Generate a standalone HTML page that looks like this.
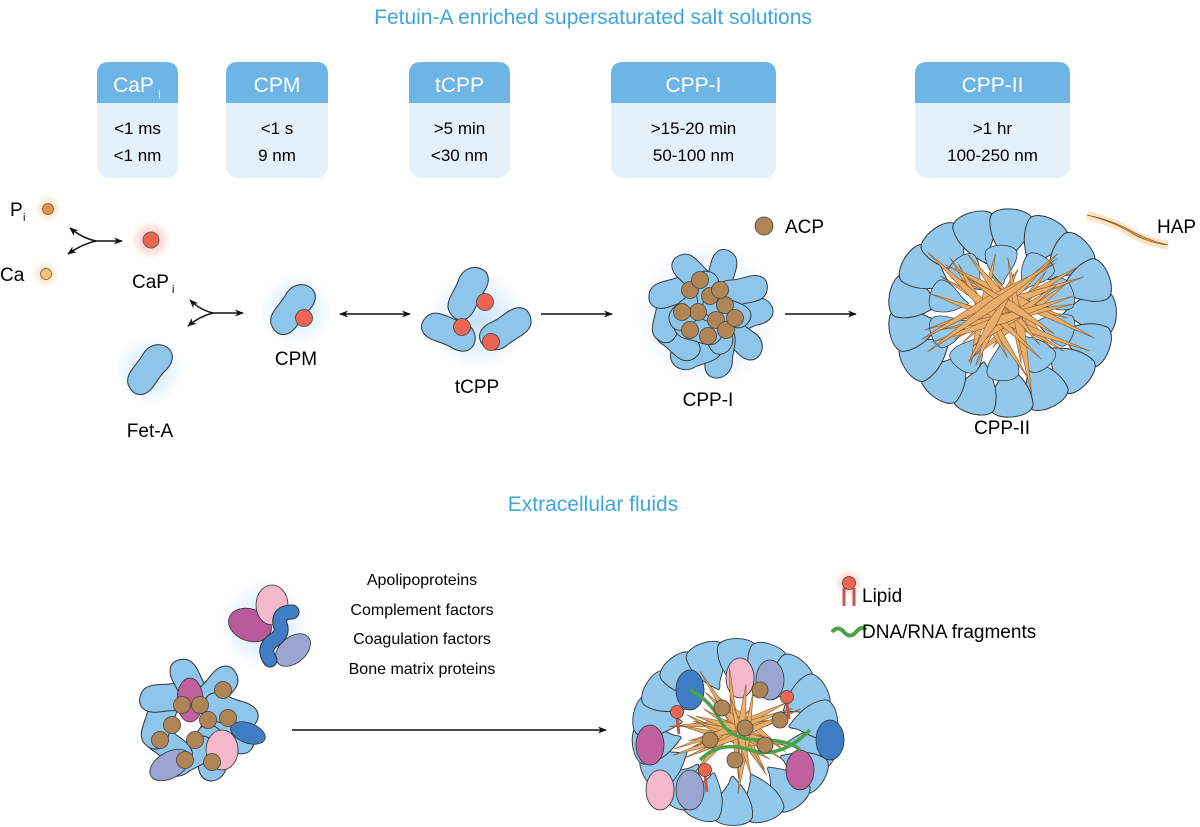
<!DOCTYPE html>
<html><head><meta charset="utf-8"><style>
body{margin:0;background:#fff;width:1200px;height:827px;overflow:hidden;font-family:"Liberation Sans",Arial,sans-serif}
svg{display:block}
text{font-family:"Liberation Sans",Arial,sans-serif}
</style></head><body>
<svg id="s" width="1200" height="827" viewBox="0 0 1200 827">
<defs>
<radialGradient id="glowB"><stop offset="0" stop-color="#bfe0f7" stop-opacity=".9"/><stop offset="1" stop-color="#bfe0f7" stop-opacity="0"/></radialGradient>
<radialGradient id="glowR"><stop offset="0" stop-color="#f7a0a0" stop-opacity=".8"/><stop offset="1" stop-color="#f7a0a0" stop-opacity="0"/></radialGradient>
<radialGradient id="glowO"><stop offset="0" stop-color="#fbd3a0" stop-opacity=".9"/><stop offset="1" stop-color="#fbd3a0" stop-opacity="0"/></radialGradient>
<marker id="ah" viewBox="0 0 10 10" refX="9" refY="5" markerWidth="6" markerHeight="6" orient="auto-start-reverse"><path d="M0,1 L10,5 L0,9 L3,5Z" fill="#111"/></marker>
<path id="pea" d="M-20,20 C-28,8 -14,-2 -8,-12 C-2,-24 10,-26 18,-20 C26,-13 22,-3 14,4 C6,12 4,22 -6,26 C-12,28 -17,25 -20,20 Z" fill="#8ec5ea" stroke="#333" stroke-width="1"/>
<path id="drop" d="M0,0 C-10,-10 -20,-22 -20,-38 C-20,-52 20,-52 20,-38 C20,-24 8,-14 4,-5 C3,0 1,2 0,0Z" fill="#92c8ec" stroke="#333" stroke-width="0.9"/>
</defs>

<text x="593" y="24" text-anchor="middle" font-size="21" fill="#3ea6dd">Fetuin-A enriched supersaturated salt solutions</text>
<text x="593" y="511" text-anchor="middle" font-size="21" fill="#3ea6dd">Extracellular fluids</text>

<g id="boxes" font-size="17" text-anchor="middle"></g>

<circle cx="48" cy="209" r="14" fill="url(#glowO)"/><circle cx="48" cy="209" r="5.5" fill="#e8914a" stroke="#555" stroke-width=".7"/>
<circle cx="46" cy="274" r="14" fill="url(#glowO)"/><circle cx="46" cy="274" r="5.5" fill="#fbc46e" stroke="#555" stroke-width=".7"/>
<text x="10" y="216" font-size="19">P</text><text x="23" y="221" font-size="11">i</text>
<text x="0" y="281" font-size="19">Ca</text>
<path d="M96,241 Q82,238 70,228" fill="none" stroke="#111" stroke-width="1.5" marker-end="url(#ah)"/>
<path d="M96,241 Q82,244 68,254" fill="none" stroke="#111" stroke-width="1.5" marker-end="url(#ah)"/>
<line x1="96" y1="241" x2="122" y2="241" stroke="#111" stroke-width="1.5" marker-end="url(#ah)"/>
<circle cx="151" cy="240" r="20" fill="url(#glowR)"/><circle cx="151" cy="240" r="8" fill="#ec6552" stroke="#555" stroke-width=".8"/>
<text x="132" y="288" font-size="19">CaP</text><text x="172" y="293" font-size="11">i</text>
<path d="M213,313 Q200,310 190,300" fill="none" stroke="#111" stroke-width="1.5" marker-end="url(#ah)"/>
<path d="M213,313 Q200,316 188,326" fill="none" stroke="#111" stroke-width="1.5" marker-end="url(#ah)"/>
<line x1="213" y1="313" x2="243" y2="313" stroke="#111" stroke-width="1.5" marker-end="url(#ah)"/>
<circle cx="150" cy="370" r="34" fill="url(#glowB)"/><use href="#pea" x="150" y="368"/>
<text x="150" y="437" font-size="19" text-anchor="middle">Fet-A</text>
<circle cx="296" cy="310" r="36" fill="url(#glowB)"/><use href="#pea" x="293" y="308"/><circle cx="304" cy="318" r="8.5" fill="#ec6552" stroke="#444" stroke-width=".8"/>
<text x="296" y="365" font-size="19" text-anchor="middle">CPM</text>
<line x1="340" y1="314" x2="410" y2="314" stroke="#111" stroke-width="1.5" marker-start="url(#ah)" marker-end="url(#ah)"/>
<circle cx="478" cy="320" r="50" fill="url(#glowB)"/>
<use href="#pea" transform="translate(468,292) rotate(-10)"/>
<use href="#pea" transform="translate(450,332) rotate(75)"/>
<use href="#pea" transform="translate(505,330) rotate(200)"/>
<circle cx="485" cy="302" r="8.5" fill="#ec6552" stroke="#444" stroke-width=".8"/>
<circle cx="462" cy="327" r="8.5" fill="#ec6552" stroke="#444" stroke-width=".8"/>
<circle cx="491" cy="342" r="8.5" fill="#ec6552" stroke="#444" stroke-width=".8"/>
<text x="477" y="393" font-size="19" text-anchor="middle">tCPP</text>
<line x1="541" y1="314" x2="612" y2="314" stroke="#111" stroke-width="1.5" marker-end="url(#ah)"/>
<g id="cpp1"></g>
<text x="708" y="406" font-size="19" text-anchor="middle">CPP-I</text>
<circle cx="764" cy="226" r="9" fill="#b08556" stroke="#444" stroke-width=".8"/>
<text x="785" y="233" font-size="19">ACP</text>
<line x1="785" y1="314" x2="856" y2="314" stroke="#111" stroke-width="1.5" marker-end="url(#ah)"/>
<g id="cpp2"></g>
<text x="1002" y="434" font-size="19" text-anchor="middle">CPP-II</text>
<path d="M1087,215 Q1115,222 1135,235 Q1150,243 1168,245" fill="none" stroke="#fbd3a0" stroke-width="9" opacity=".6"/>
<path d="M1087,215 Q1115,222 1135,235 Q1150,243 1168,245 Q1148,240 1133,232 Q1112,220 1087,215Z" fill="#e9a865" stroke="#8a5a2a" stroke-width=".8"/>
<text x="1157" y="233" font-size="19">HAP</text>

<g font-size="16" text-anchor="middle">
<text x="422" y="585">Apolipoproteins</text>
<text x="422" y="615">Complement factors</text>
<text x="422" y="644">Coagulation factors</text>
<text x="422" y="674">Bone matrix proteins</text>
</g>
<g id="prot"></g>
<g id="clusterL"></g>
<line x1="292" y1="730" x2="606" y2="730" stroke="#111" stroke-width="1.5" marker-end="url(#ah)"/>
<g id="clusterR"></g>
<circle cx="849" cy="583" r="14" fill="url(#glowR)"/>
<path d="M844,588 L844,606 M854,588 L854,606" stroke="#c9534a" stroke-width="3" fill="none"/>
<circle cx="849" cy="583" r="6.5" fill="#ec6552" stroke="#444" stroke-width=".8"/>
<text x="862" y="602" font-size="19">Lipid</text>
<path d="M832,632 q6,-7 12,0 t12,0 t10,-2" fill="none" stroke="#4aa24a" stroke-width="4"/>
<text x="862" y="638" font-size="19">DNA/RNA fragments</text>
</svg>
<script>
const NS="http://www.w3.org/2000/svg";
function el(p,t,a){const e=document.createElementNS(NS,t);for(const k in a)e.setAttribute(k,a[k]);p.appendChild(e);return e;}
const B=document.getElementById("boxes");
[[97,178,"CaP","<1 ms","<1 nm",1],[226,328,"CPM","<1 s","9 nm"],[409,510,"tCPP",">5 min","<30 nm"],[611,776,"CPP-I",">15-20 min","50-100 nm"],[915,1070,"CPP-II",">1 hr","100-250 nm"]].forEach(b=>{
 const [x1,x2,h,a,c,sub]=b,w=x2-x1,cx=(x1+x2)/2;
 el(B,"rect",{x:x1,y:62,width:w,height:116,rx:12,fill:"#e5f1fa"});
 el(B,"path",{d:`M${x1},103 L${x1},74 Q${x1},62 ${x1+12},62 L${x2-12},62 Q${x2},62 ${x2},74 L${x2},103Z`,fill:"#6db5e5"});
 const t=el(B,"text",{x:cx-(sub?4:0),y:92,fill:"#fff","font-size":21});t.textContent=h;
 if(sub){const s=el(B,"text",{x:cx+22,y:98,fill:"#fff","font-size":11});s.textContent="i";}
 el(B,"text",{x:cx,y:134}).textContent=a;
 el(B,"text",{x:cx,y:161}).textContent=c;
});
function drops(g,cx,cy,rx,ry,n,off,sc){for(let i=0;i<n;i++){const a=i/n*2*Math.PI+off;const x=cx+Math.cos(a)*rx,y=cy+Math.sin(a)*ry;el(g,"use",{href:"#drop",transform:`translate(${x},${y}) rotate(${a*180/Math.PI+90}) scale(${sc})`});}}
function peas(g,cx,cy,r,n,off,sc){for(let i=0;i<n;i++){const a=i/n*2*Math.PI+off;const x=cx+Math.cos(a)*r,y=cy+Math.sin(a)*r;el(g,"use",{href:"#pea",transform:`translate(${x},${y}) rotate(${a*180/Math.PI*1.7+30}) scale(${sc})`});}}
function ball(g,x,y,r,f){el(g,"circle",{cx:x,cy:y,r:r,fill:f||"#b08556",stroke:"#444","stroke-width":.8});}
const c1=document.getElementById("cpp1");
el(c1,"circle",{cx:708,cy:315,r:72,fill:"url(#glowB)"});
peas(c1,708,315,40,10,0,0.95);peas(c1,708,315,18,5,1,0.9);
[[690,290],[710,296],[725,305],[698,312],[716,320],[690,330],[708,336],[726,330],[682,312],[700,280],[720,290],[735,318]].forEach(p=>ball(c1,p[0],p[1],8.5));
const c2=document.getElementById("cpp2");
drops(c2,1002,313,62,52,17,0,1.08);
drops(c2,1002,313,36,29,10,0.3,0.8);
let seed=3;function rnd(){seed=(seed*9301+49297)%233280;return seed/233280;}
for(let i=0;i<26;i++){const a=rnd()*Math.PI*2,L=45+rnd()*45,cx=1002+(rnd()-.5)*40,cy=313+(rnd()-.5)*30;
 const dx=Math.cos(a)*L,dy=Math.sin(a)*L*0.8,nx=-Math.sin(a)*4.5,ny=Math.cos(a)*4.5;
 el(c2,"path",{d:`M${cx-dx},${cy-dy} L${cx+nx},${cy+ny} L${cx+dx},${cy+dy} L${cx-nx},${cy-ny}Z`,fill:"#eaae6c",stroke:"#8a5a2a","stroke-width":.6});}
const P=document.getElementById("prot");
el(P,"circle",{cx:265,cy:625,r:45,fill:"url(#glowB)"});
el(P,"ellipse",{cx:250,cy:625,rx:22,ry:16,fill:"#b8599a",stroke:"#333","stroke-width":.8,transform:"rotate(20 250 625)"});
el(P,"ellipse",{cx:272,cy:605,rx:16,ry:20,fill:"#f3b8cc",stroke:"#333","stroke-width":.8});
el(P,"ellipse",{cx:293,cy:650,rx:20,ry:13,fill:"#9aa6cf",stroke:"#333","stroke-width":.8,transform:"rotate(-40 293 650)"});
el(P,"path",{d:"M270,660 q-8,-12 4,-20 q10,-6 6,-16 q-2,-12 12,-12",fill:"none",stroke:"#333","stroke-width":15,"stroke-linecap":"round"});
el(P,"path",{d:"M270,660 q-8,-12 4,-20 q10,-6 6,-16 q-2,-12 12,-12",fill:"none",stroke:"#3f7dc4","stroke-width":13,"stroke-linecap":"round"});
const L=document.getElementById("clusterL");
peas(L,195,722,36,9,0.4,1.0);
el(L,"ellipse",{cx:190,cy:700,rx:13,ry:22,fill:"#c0609e",stroke:"#333","stroke-width":.8});
el(L,"ellipse",{cx:222,cy:750,rx:16,ry:20,fill:"#f3b8cc",stroke:"#333","stroke-width":.8});
el(L,"ellipse",{cx:170,cy:765,rx:22,ry:13,fill:"#9aa6cf",stroke:"#333","stroke-width":.8,transform:"rotate(-30 170 765)"});
el(L,"ellipse",{cx:248,cy:733,rx:18,ry:10,fill:"#3f7dc4",stroke:"#333","stroke-width":.8,transform:"rotate(20 248 733)"});
[[223,690],[182,705],[208,720],[228,718],[172,725],[160,740],[195,740],[185,760],[212,762],[200,705]].forEach(p=>ball(L,p[0],p[1],8.5));
const R=document.getElementById("clusterR");
drops(R,735,732,55,45,18,0.2,1.0);
[[650,745,"#c0609e"],[690,790,"#9aa6cf"],[830,740,"#3f7dc4"],[800,770,"#c0609e"],[770,680,"#9aa6cf"],[740,678,"#f3b8cc"],[690,690,"#3f7dc4"],[660,790,"#f3b8cc"]].forEach(p=>el(R,"ellipse",{cx:p[0],cy:p[1],rx:14,ry:20,fill:p[2],stroke:"#333","stroke-width":.8}));
seed=7;
for(let i=0;i<22;i++){const a=rnd()*Math.PI*2,Ln=35+rnd()*35,cx=735+(rnd()-.5)*30,cy=730+(rnd()-.5)*25;
 const dx=Math.cos(a)*Ln,dy=Math.sin(a)*Ln*.85,nx=-Math.sin(a)*3.5,ny=Math.cos(a)*3.5;
 el(R,"path",{d:`M${cx-dx},${cy-dy} L${cx+nx},${cy+ny} L${cx+dx},${cy+dy} L${cx-nx},${cy-ny}Z`,fill:"#eaae6c",stroke:"#8a5a2a","stroke-width":.6});}
el(R,"path",{d:"M690,690 q20,10 30,30 t40,20 t40,10",fill:"none",stroke:"#4aa24a","stroke-width":3.5});
el(R,"path",{d:"M700,760 q20,-20 50,-10 t60,-20",fill:"none",stroke:"#4aa24a","stroke-width":3.5});
[[760,690],[722,708],[745,728],[710,740],[765,745],[735,760],[780,720]].forEach(p=>ball(R,p[0],p[1],8));
[[677,712],[787,697],[705,770]].forEach(p=>{el(R,"line",{x1:p[0],y1:p[1]+6,x2:p[0]+2,y2:p[1]+22,stroke:"#c9534a","stroke-width":3});ball(R,p[0],p[1],6.5,"#ec6552");});
</script>
</body></html>
